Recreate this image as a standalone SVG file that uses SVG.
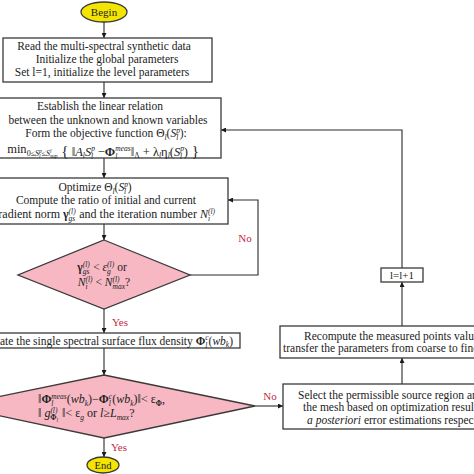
<svg xmlns="http://www.w3.org/2000/svg" width="474" height="474" viewBox="0 0 474 474">
<style>
.bg{fill:#ffffff}
.box{fill:#ffffff;stroke:#3a3a3a;stroke-width:1.3}
.dia{fill:#f7b8c4;stroke:#3a3a3a;stroke-width:1.3}
.term{fill:#f3e500;stroke:#3a3a3a;stroke-width:1.3}
.ln{fill:none;stroke:#2a2a2a;stroke-width:1.1}
.t{font-family:"Liberation Serif","DejaVu Serif",serif;font-size:11.5px;fill:#222222}
.m{text-anchor:middle}
.e{text-anchor:end}
.s{font-size:7.5px}
.ss{font-size:5.5px}
.i{font-style:italic}
.b{font-weight:bold}
.lab{font-family:"Liberation Serif","DejaVu Serif",serif;font-size:11px;fill:#c4283f}
.br{font-size:15px}
</style>
<defs>
<marker id="ah" viewBox="0 0 10 10" refX="10" refY="5" markerWidth="5" markerHeight="5" markerUnits="userSpaceOnUse" orient="auto">
<path d="M0,0 L10,5 L0,10 z" fill="#1a1a1a"/>
</marker>
</defs>
<rect class="bg" x="0" y="0" width="474" height="474"/>

<g id="connectors">
<line class="ln" x1="104" y1="22" x2="104" y2="38" marker-end="url(#ah)"/>
<line class="ln" x1="104" y1="82" x2="104" y2="98" marker-end="url(#ah)"/>
<line class="ln" x1="104" y1="158" x2="104" y2="178" marker-end="url(#ah)"/>
<line class="ln" x1="104" y1="224" x2="104" y2="240" marker-end="url(#ah)"/>
<polyline class="ln" points="190,275 258,275 258,200 228,200" marker-end="url(#ah)"/>
<line class="ln" x1="104" y1="309" x2="104" y2="333" marker-end="url(#ah)"/>
<line class="ln" x1="104" y1="348" x2="104" y2="375" marker-end="url(#ah)"/>
<line class="ln" x1="104" y1="438" x2="104" y2="457" marker-end="url(#ah)"/>
<line class="ln" x1="255" y1="406" x2="283" y2="406" marker-end="url(#ah)"/>
<line class="ln" x1="402" y1="384" x2="402" y2="358" marker-end="url(#ah)"/>
<line class="ln" x1="402" y1="326" x2="402" y2="282" marker-end="url(#ah)"/>
<polyline class="ln" points="402,268 402,130 221,130" marker-end="url(#ah)"/>
<text class="lab" x="245" y="242" text-anchor="middle">No</text>
<text class="lab" x="112" y="326">Yes</text>
<text class="lab" x="270" y="400" text-anchor="middle">No</text>
<text class="lab" x="111" y="451">Yes</text>
</g>

<g id="begin">
<ellipse class="term" cx="104" cy="12" rx="23" ry="10"/>
<text class="t m" x="104" y="16" style="font-size:11px">Begin</text>
</g>

<g id="read-data">
<rect class="box" x="3" y="38" width="209" height="44"/>
<text class="t m" x="104" y="50">Read the multi-spectral synthetic data</text>
<text class="t m" x="107" y="63">Initialize the global parameters</text>
<text class="t m" x="102" y="76">Set l=1, initialize the level parameters</text>
</g>

<g id="establish">
<rect class="box" x="-2" y="98" width="223" height="60"/>
<text class="t m" x="100" y="110">Establish the linear relation</text>
<text class="t m" x="108" y="124">between the unknown and known variables</text>
<text class="t m" x="106" y="137">Form the objective function Θ<tspan class="s i" dy="2.5">l</tspan><tspan dy="-2.5">(</tspan><tspan class="i">S</tspan><tspan class="s i" dy="-4.5">p</tspan><tspan class="s i" dx="-3.8" dy="7.5">l</tspan><tspan dx="1.5" dy="-3">):</tspan></text>
<text class="t m" x="103" y="153" style="font-size:12.5px">min<tspan style="font-size:8px" dy="2.5">0≤<tspan class="i">S</tspan><tspan class="i ss" dy="-2.5">p</tspan><tspan class="i ss" dx="-2.8" dy="5">l</tspan><tspan dx="1" dy="-2.5">≤</tspan><tspan class="i">S</tspan><tspan class="i ss" dy="-2.5">l</tspan><tspan class="i ss" dx="-1.5" dy="5">sup</tspan></tspan><tspan class="br" dy="-2.5"> {</tspan><tspan> ‖</tspan><tspan class="i">A</tspan><tspan class="s i" dy="2.5">l</tspan><tspan class="i" dy="-2.5">S</tspan><tspan class="s i" dy="-4.5">p</tspan><tspan class="s i" dx="-3.8" dy="7.5">l</tspan><tspan dx="1.5" dy="-3"> −</tspan><tspan class="b">Φ</tspan><tspan class="s i" dy="-4.5">meas</tspan><tspan class="s i" dx="-15.4" dy="7.5">l</tspan><tspan dx="13.3" dy="-3">‖</tspan><tspan class="s" dy="2.5">Λ</tspan><tspan dy="-2.5"> + λ</tspan><tspan class="s i" dy="2.5">l</tspan><tspan dy="-2.5">η</tspan><tspan class="s i" dy="2.5">l</tspan><tspan dy="-2.5">(</tspan><tspan class="i">S</tspan><tspan class="s i" dy="-4.5">p</tspan><tspan class="s i" dx="-3.8" dy="7.5">l</tspan><tspan dx="1.5" dy="-3">)</tspan><tspan class="br"> }</tspan></text>
</g>

<g id="optimize">
<rect class="box" x="-2" y="178" width="230" height="46"/>
<text class="t m" x="95" y="191">Optimize Θ<tspan class="s i" dy="2.5">l</tspan><tspan dy="-2.5">(</tspan><tspan class="i">S</tspan><tspan class="s i" dy="-4.5">p</tspan><tspan class="s i" dx="-3.8" dy="7.5">l</tspan><tspan dx="1.5" dy="-3">)</tspan></text>
<text class="t m" x="106" y="204">Compute the ratio of initial and current</text>
<text class="t e" x="215" y="218" style="font-size:12px">gradient norm <tspan class="b">γ</tspan><tspan class="s i" dy="-4.5">(l)</tspan><tspan class="s i" dx="-7.1" dy="7.5">gs</tspan><tspan dx="1" dy="-3"> and the iteration number </tspan><tspan class="i">N</tspan><tspan class="s i" dy="-4.5">(l)</tspan><tspan class="s i" dx="-7.1" dy="7.5">i</tspan><tspan dx="5" dy="-3"> </tspan></text>
</g>

<g id="check-gradient">
<polygon class="dia" points="104,240 190,275 104,309 18,275"/>
<text class="t m" x="102" y="271"><tspan class="b">γ</tspan><tspan class="s i" dy="-4.5">(l)</tspan><tspan class="s i" dx="-7.1" dy="7.5">gs</tspan><tspan dx="1" dy="-3"> &lt; </tspan><tspan class="i">ε</tspan><tspan class="s i" dy="-4.5">(l)</tspan><tspan class="s i" dx="-7.1" dy="7.5">g</tspan><tspan dx="3.4" dy="-3"> or</tspan></text>
<text class="t m" x="104" y="286"><tspan class="i">N</tspan><tspan class="s i" dy="-4.5">(l)</tspan><tspan class="s i" dx="-7.1" dy="7.5">i</tspan><tspan dx="5" dy="-3"> &lt; </tspan><tspan class="i">N</tspan><tspan class="s i" dy="-4.5">(l)</tspan><tspan class="s i" dx="-7.1" dy="7.5">max</tspan><tspan dy="-3">?</tspan></text>
</g>

<g id="calculate-flux">
<rect class="box" x="-2" y="333" width="242" height="15"/>
<text class="t e" x="233" y="344.5">Calculate the single spectral surface flux density <tspan class="b">Φ</tspan><tspan class="s i" dy="-4.5">c</tspan><tspan class="s i" dx="-3.3" dy="7.5">l</tspan><tspan dx="1.2" dy="-3">(</tspan><tspan class="i">wb</tspan><tspan class="s i" dy="2.5">k</tspan><tspan dy="-2.5">)</tspan></text>
</g>

<g id="check-convergence">
<polygon class="dia" points="104,375 255,406 104,438 -47,406"/>
<text class="t" x="38" y="403" style="font-size:12px">‖<tspan class="b">Φ</tspan><tspan class="s i" dy="-4.5">meas</tspan><tspan class="s i" dx="-15.4" dy="7.5">l</tspan><tspan dx="13.3" dy="-3">(</tspan><tspan class="i">wb</tspan><tspan class="s i" dy="2.5">k</tspan><tspan dy="-2.5">)−</tspan><tspan class="b">Φ</tspan><tspan class="s i" dy="-4.5">c</tspan><tspan class="s i" dx="-3.3" dy="7.5">l</tspan><tspan dx="1.2" dy="-3">(</tspan><tspan class="i">wb</tspan><tspan class="s i" dy="2.5">k</tspan><tspan dy="-2.5">)‖&lt; ε</tspan><tspan class="s b" dy="2.5">Φ</tspan><tspan dy="-2.5">,</tspan></text>
<text class="t" x="38" y="417" style="font-size:12px">‖ <tspan class="i">g</tspan><tspan class="s i" dy="-4.5">(l)</tspan><tspan class="s b" dx="-7.1" dy="7.5">Φ</tspan><tspan class="ss i" dy="1.5">l</tspan><tspan dx="1" dy="-4.5"> ‖&lt; ε</tspan><tspan class="s i" dy="2.5">g</tspan><tspan dy="-2.5"> or </tspan><tspan class="i">l</tspan><tspan>≥</tspan><tspan class="i">L</tspan><tspan class="s i" dy="2.5">max</tspan><tspan dy="-2.5">?</tspan></text>
</g>

<g id="end">
<ellipse class="term" cx="103" cy="465" rx="16" ry="8"/>
<text class="t m" x="103" y="469" style="font-size:10.5px">End</text>
</g>

<g id="select-region">
<rect class="box" x="283" y="384" width="200" height="45"/>
<text class="t" x="298" y="398.5">Select the permissible source region and refine</text>
<text class="t" x="303" y="411">the mesh based on optimization results and</text>
<text class="t" x="307" y="423.5"><tspan class="i">a posteriori</tspan> error estimations respectively</text>
</g>

<g id="recompute">
<rect class="box" x="280" y="326" width="200" height="32"/>
<text class="t" x="304" y="339.5">Recompute the measured points values and</text>
<text class="t" x="283" y="351.5">transfer the parameters from coarse to fine</text>
</g>

<g id="increment-level">
<rect class="box" x="381" y="268" width="42" height="14"/>
<text class="t m" x="402" y="279" style="font-size:11px">l=l+1</text>
</g>
</svg>
